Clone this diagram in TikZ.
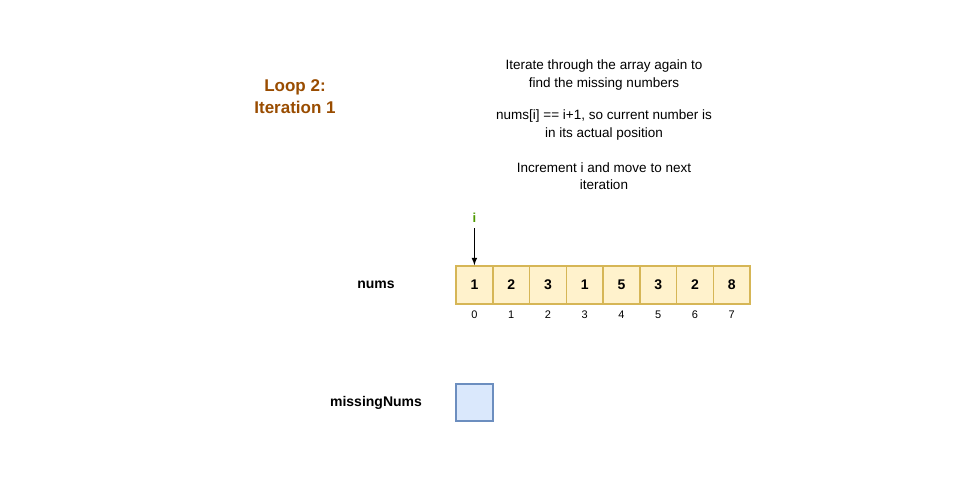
\documentclass[tikz,border=0pt]{standalone}
\usepackage{fontspec}
\setmainfont{Liberation Sans}
\usetikzlibrary{positioning}
\definecolor{cellfill}{HTML}{FFF2CC}
\definecolor{celldraw}{HTML}{D6B656}
\definecolor{boxfill}{HTML}{DAE8FC}
\definecolor{boxdraw}{HTML}{6C8EBF}
\definecolor{titlebrown}{HTML}{994C00}
\definecolor{ptrgreen}{HTML}{4D9900}
\tikzset{
    cell/.style={draw=celldraw, fill=cellfill, line width=1.5pt, minimum width=36.75pt, minimum height=38pt, inner sep=0pt, font=\fontsize{14}{16}\selectfont\bfseries},
    idx/.style={font=\fontsize{11}{13}\selectfont},
    lbl/.style={font=\fontsize{14}{16}\selectfont\bfseries},
    note/.style={align=center, font=\fontsize{13.5}{17.5}\selectfont}
}
\begin{document}
\begin{tikzpicture}[x=1pt,y=-1pt]
    \useasboundingbox (0,0) rectangle (980,500);
    % title
    \node[lbl, titlebrown, align=center, font=\fontsize{17}{22}\selectfont\bfseries] (title) at (295,97) {Loop 2:\\Iteration 1};
    % explanation
    \node[note] (note1) at (604,75) {Iterate through the array again to\\find the missing numbers};
    \node[note] (note2) at (604,125) {nums[i] == i+1, so current number is\\in its actual position};
    \node[note] (note3) at (604,176) {Increment i and move to next\\iteration};
    % array
    \node[lbl] (numslbl) at (376,285) {nums};
    \foreach \v [count=\k from 0] in {1,2,3,1,5,3,2,8} {
        \node[cell] (c\k) at (474.4+36.75*\k,285) {\v};
        \node[idx, below=3pt of c\k] (i\k) {\k};
    }
    % pointer
    \node[lbl, ptrgreen, font=\fontsize{13}{15}\selectfont\bfseries] (ptr) at (474.4,218) {i};
    \draw[-latex, line width=1.5pt] (ptr.south) ++(0,2) coordinate (ptrtop) -- (c0.north);
    % missing numbers
    \node[lbl] (misslbl) at (376,403) {missingNums};
    \node[draw=boxdraw, fill=boxfill, line width=1.5pt, minimum size=37pt] (miss) at (474.5,402.5) {};
\end{tikzpicture}
\end{document}
